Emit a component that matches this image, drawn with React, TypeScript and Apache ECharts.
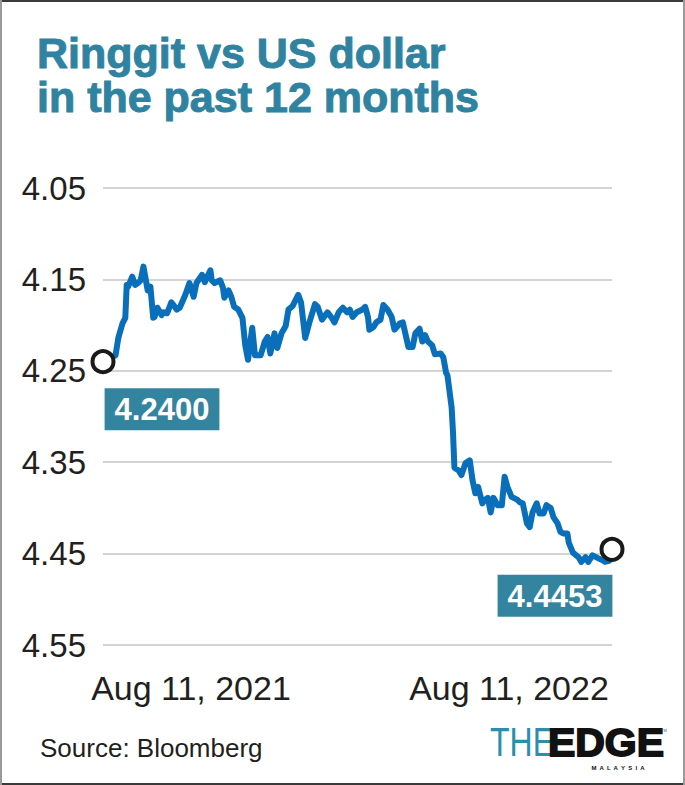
import React, { useEffect, useRef } from "react";
import * as echarts from "echarts";

// Days since Aug 11, 2021 (sampled trading days)
const days = [
  0, 9, 11, 14, 16, 17, 18, 21, 23, 25, 27, 29, 31, 32, 34, 36, 37, 39, 42, 43,
  46, 47, 49, 53, 55, 59, 62, 65, 67, 71, 73, 77, 78, 80, 84, 86, 87, 90, 92, 94,
  97, 100, 102, 104, 107, 109, 113, 116, 118, 120, 123, 125, 128, 131, 133, 136, 140, 142, 145, 148,
  152, 154, 157, 161, 164, 166, 169, 172, 175, 177, 179, 182, 186, 188, 190, 191, 194, 196, 199, 201,
  204, 207, 209, 213, 215, 219, 222, 224, 227, 229, 231, 233, 236, 238, 242, 244, 246, 247, 250, 251,
  252, 255, 257, 260, 263, 265, 267, 269, 272, 274, 276, 278, 280, 283, 286, 288, 290, 293, 297, 299,
  301, 304, 306, 308, 311, 313, 316, 318, 321, 323, 326, 328, 330, 333, 334, 337, 341, 343, 346, 348,
  351, 355, 358, 360, 363, 365,
];

// Ringgit per US dollar
const rates = [
  4.24, 4.233, 4.214, 4.198, 4.192, 4.156, 4.158, 4.147, 4.156, 4.154, 4.151, 4.136, 4.153, 4.162, 4.158, 4.192, 4.191, 4.181, 4.189, 4.186,
  4.187, 4.183, 4.175, 4.183, 4.181, 4.167, 4.154, 4.169, 4.154, 4.145, 4.153, 4.14, 4.151, 4.154, 4.151, 4.159, 4.17, 4.162, 4.169, 4.18,
  4.183, 4.192, 4.222, 4.238, 4.203, 4.233, 4.233, 4.218, 4.213, 4.231, 4.209, 4.225, 4.209, 4.201, 4.183, 4.179, 4.167, 4.175, 4.214, 4.197,
  4.177, 4.18, 4.194, 4.186, 4.192, 4.197, 4.186, 4.181, 4.186, 4.183, 4.191, 4.186, 4.183, 4.18, 4.191, 4.205, 4.202, 4.197, 4.194, 4.178,
  4.183, 4.191, 4.205, 4.198, 4.197, 4.224, 4.224, 4.209, 4.204, 4.218, 4.211, 4.218, 4.222, 4.232, 4.231, 4.235, 4.252, 4.255, 4.29, 4.318,
  4.356, 4.359, 4.364, 4.351, 4.348, 4.37, 4.384, 4.377, 4.395, 4.391, 4.389, 4.405, 4.389, 4.397, 4.397, 4.366, 4.377, 4.388, 4.391, 4.394,
  4.395, 4.417, 4.421, 4.405, 4.395, 4.406, 4.406, 4.397, 4.4, 4.41, 4.417, 4.426, 4.428, 4.428, 4.438, 4.449, 4.454, 4.459, 4.454, 4.459,
  4.452, 4.455, 4.457, 4.459, 4.458, 4.4453,
];

const endDays = [0, 365];
const endRates = [4.24, 4.4453];

const yMin = 4.05;
const yMax = 4.55;
const yStep = 0.1;

const xLabels = ["Aug 11, 2021", "Aug 11, 2022"];

const titleText = "Ringgit vs US dollar\nin the past 12 months";
const sourceText = "Source: Bloomberg";

const TEAL = "#2f83a0";
const BOX = "#33859f";
const LINE = "#0a6fba";
const INK = "#231f20";
const FONT = "'Liberation Sans', Arial, Helvetica, sans-serif";

export default function App() {
  const ref = useRef<HTMLDivElement>(null);

  useEffect(() => {
    if (!ref.current) return;
    const chart = echarts.init(ref.current, null, { renderer: "svg" });
    const lineData = days.map((d, i) => [d, rates[i]]);
    const labelOffsets = [
      { offset: [59, 0], distance: 14 },
      { offset: [-57, 0], distance: 13 },
    ];
    const endData = endDays.map((d, i) => ({
      value: [d, endRates[i]],
      label: {
        show: true,
        position: "bottom",
        distance: labelOffsets[i].distance,
        offset: labelOffsets[i].offset,
        formatter: (p: any) => Number(p.value[1]).toFixed(4),
        backgroundColor: BOX,
        color: "#ffffff",
        fontFamily: FONT,
        fontWeight: "bold",
        fontSize: 31,
        lineHeight: 31,
        padding: [6, 10, 5, 10],
      },
    }));

    chart.setOption({
      animation: false,
      backgroundColor: "#ffffff",
      grid: { left: 103, right: 73, top: 188, bottom: 140, containLabel: false },
      xAxis: {
        type: "value",
        min: 0,
        max: 365,
        show: false,
      },
      yAxis: {
        type: "value",
        inverse: true,
        min: yMin,
        max: yMax,
        interval: yStep,
        axisLine: { show: false },
        axisTick: { show: false },
        axisLabel: {
          formatter: (v: number) => v.toFixed(2),
          fontSize: 33,
          fontFamily: FONT,
          color: INK,
          margin: 17,
        },
        splitLine: { lineStyle: { color: "#d4d4d4", width: 2 } },
      },
      series: [
        {
          type: "line",
          data: lineData,
          symbol: "none",
          lineStyle: { color: LINE, width: 6, join: "round", cap: "round" },
          z: 2,
        },
        {
          type: "scatter",
          data: endData,
          symbol: "circle",
          symbolSize: 21,
          itemStyle: { color: "#ffffff", borderColor: "#1a1a1a", borderWidth: 4, opacity: 1 },
          z: 3,
        },
      ],
      graphic: [
        // frame
        { type: "rect", shape: { x: 0, y: 0, width: 685, height: 2 }, style: { fill: "#3a3a3a" }, silent: true },
        { type: "rect", shape: { x: 0, y: 783, width: 685, height: 2 }, style: { fill: "#3a3a3a" }, silent: true },
        { type: "rect", shape: { x: 0, y: 0, width: 2, height: 785 }, style: { fill: "#9a9a9a" }, silent: true },
        { type: "rect", shape: { x: 683, y: 0, width: 2, height: 785 }, style: { fill: "#9a9a9a" }, silent: true },
        {
          type: "text",
          x: 37,
          y: 31,
          scaleX: 1.0,
          style: {
            text: titleText,
            fill: TEAL,
            font: `bold 43px ${FONT}`,
            lineHeight: 44,
            stroke: TEAL,
            lineWidth: 1,
          },
        },
        ...xLabels.map((t, i) => ({
          type: "text",
          x: i === 0 ? 191 : 509,
          y: 689,
          scaleX: 1.03,
          style: {
            text: t,
            fill: INK,
            font: `33px ${FONT}`,
            textAlign: "center",
            textVerticalAlign: "middle",
          },
        })),
        {
          type: "text",
          x: 40,
          y: 748,
          style: {
            text: sourceText,
            fill: INK,
            font: `26px ${FONT}`,
            textVerticalAlign: "middle",
          },
        },
        // logo
        {
          type: "text",
          x: 490,
          y: 742,
          scaleX: 0.8,
          style: {
            text: "THE",
            fill: "#2a8fae",
            font: `40px 'Liberation Sans Narrow', ${FONT}`,
            textVerticalAlign: "middle",
          },
        },
        {
          type: "text",
          x: 548,
          y: 742,
          scaleX: 1.05,
          style: {
            text: "EDGE",
            fill: "#111111",
            font: `900 39px ${FONT}`,
            textVerticalAlign: "middle",
            stroke: "#111111",
            lineWidth: 1.8,
          },
        },
        {
          type: "text",
          x: 661,
          y: 728,
          style: { text: "TM", fill: "#555", font: `4px ${FONT}` },
        },
        {
          type: "text",
          x: 618,
          y: 768,
          style: {
            text: "M  A  L  A  Y  S  I  A",
            fill: "#111111",
            font: `bold 6px ${FONT}`,
            textAlign: "center",
            textVerticalAlign: "middle",
          },
        },
      ],
    });
    return () => chart.dispose();
  }, []);

  return (
    <div
      ref={ref}
      style={{ position: "absolute", left: 0, top: 0, width: 685, height: 785, background: "#fff" }}
    />
  );
}
